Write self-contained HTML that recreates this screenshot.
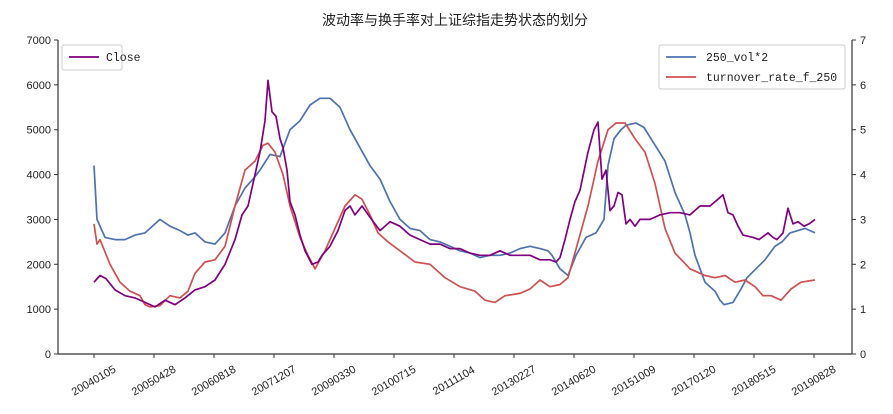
<!DOCTYPE html>
<html><head><meta charset="utf-8"><style>
body{margin:0;background:#fff;}
svg{display:block;font-family:"Liberation Sans","Noto Sans CJK SC",sans-serif;}
</style></head><body>
<svg id="chart" width="893" height="414" viewBox="0 0 893 414" xmlns="http://www.w3.org/2000/svg">
<text x="455" y="25" text-anchor="middle" font-size="14" fill="#222">波动率与换手率对上证综指走势状态的划分</text>
<g id="axes"></g>
<g id="series"></g>
<g>
<rect x="62" y="45" width="60" height="25" fill="#fff" stroke="#ccc" rx="2"/>
<line x1="69" y1="57" x2="99" y2="57" stroke="#800080" stroke-width="1.8"/>
<text x="106" y="61" font-family="Liberation Mono,monospace" font-size="11.5" fill="#222">Close</text>
</g>
<g>
<rect x="659" y="45" width="186" height="44" fill="#fff" stroke="#ccc" rx="2"/>
<line x1="666" y1="57" x2="696" y2="57" stroke="#4c72b0" stroke-width="1.8"/>
<text x="706" y="61" font-family="Liberation Mono,monospace" font-size="11.5" fill="#222">250_vol*2</text>
<line x1="666" y1="77" x2="696" y2="77" stroke="#d05050" stroke-width="1.8"/>
<text x="706" y="81" font-family="Liberation Mono,monospace" font-size="11.5" fill="#222">turnover_rate_f_250</text>
</g>
</svg>
<script>
const tickLabels=["20040105","20050428","20060818","20071207","20090330","20100715","20111104","20130227","20140620","20151009","20170120","20180515","20190828"];
const leftTicks=[0,1000,2000,3000,4000,5000,6000,7000];
const rightTicks=[0,1,2,3,4,5,6,7];
const closeIdx=[0,30,60,105,155,205,255,305,355,405,455,505,555,605,655,705,740,770,805,830,855,870,890,910,930,945,965,980,1005,1030,1055,1090,1120,1140,1180,1220,1255,1280,1305,1340,1380,1430,1480,1530,1580,1630,1680,1730,1780,1830,1880,1930,1980,2030,2080,2130,2180,2230,2280,2310,2330,2355,2380,2405,2430,2470,2500,2520,2540,2560,2580,2600,2620,2640,2660,2680,2705,2730,2780,2830,2880,2930,2980,3030,3080,3120,3145,3170,3195,3220,3245,3295,3325,3370,3395,3415,3445,3470,3495,3520,3550,3575,3605];
const closeVals=[1600,1750,1680,1430,1300,1250,1150,1050,1200,1100,1250,1430,1500,1650,2000,2550,3100,3300,4000,4500,5200,6100,5400,5300,4800,4600,4100,3400,3100,2650,2300,2000,2050,2200,2400,2750,3200,3300,3100,3300,3050,2750,2950,2850,2650,2550,2450,2450,2350,2350,2250,2200,2200,2300,2200,2200,2200,2100,2100,2050,2150,2550,3000,3400,3650,4500,5000,5170,3900,4100,3200,3300,3600,3550,2900,3000,2850,3000,3000,3100,3150,3150,3100,3300,3300,3450,3550,3150,3100,2850,2650,2600,2550,2700,2600,2550,2700,3250,2900,2950,2850,2900,3000];
const volIdx=[0,15,55,105,155,205,255,305,330,380,430,470,505,555,605,655,705,755,795,830,880,930,980,1030,1080,1130,1180,1230,1280,1330,1380,1430,1480,1530,1580,1630,1680,1730,1780,1830,1880,1930,1980,2030,2080,2130,2180,2230,2270,2290,2330,2370,2410,2460,2510,2550,2570,2600,2635,2660,2710,2750,2785,2855,2905,2955,2980,3005,3055,3105,3130,3150,3195,3235,3265,3355,3405,3440,3480,3555,3605];
const volVals=[4200,3000,2600,2550,2550,2650,2700,2900,3000,2850,2750,2650,2700,2500,2450,2700,3300,3700,3900,4100,4450,4400,5000,5200,5550,5700,5700,5500,5000,4600,4200,3900,3400,3000,2800,2750,2550,2500,2400,2300,2250,2150,2200,2200,2250,2350,2400,2350,2300,2200,1900,1750,2200,2600,2700,3000,4200,4800,5000,5100,5150,5050,4800,4300,3600,3100,2700,2200,1600,1400,1200,1100,1150,1450,1700,2100,2400,2500,2700,2800,2700];
const turnIdx=[0,15,30,80,130,180,230,255,280,330,380,430,470,505,555,605,655,705,755,805,845,870,905,945,980,1030,1070,1105,1155,1205,1255,1305,1340,1380,1420,1470,1530,1605,1680,1755,1830,1905,1955,2005,2055,2130,2180,2230,2280,2330,2370,2420,2470,2520,2570,2610,2655,2705,2755,2805,2855,2905,2980,3055,3105,3155,3205,3255,3305,3345,3385,3435,3485,3535,3605];
const turnVals=[2900,2450,2550,2000,1600,1400,1300,1100,1050,1080,1300,1250,1400,1800,2050,2100,2400,3300,4100,4300,4650,4700,4500,4000,3300,2600,2200,1900,2300,2800,3300,3550,3450,3100,2700,2500,2300,2050,2000,1700,1500,1400,1200,1150,1300,1350,1450,1650,1500,1550,1700,2500,3300,4300,5000,5150,5150,4800,4500,3800,2800,2250,1900,1750,1700,1750,1600,1650,1500,1300,1300,1200,1450,1600,1650];

const NS="http://www.w3.org/2000/svg";
const X0=58,X1=852,Y0=354,Y1=40;
function xs(i){return 94+i*0.2;}
function ys(v){return Y0-(v/7000)*(Y0-Y1);}
function yr(v){return Y0-(v/7)*(Y0-Y1);}
const axes=document.getElementById('axes');
const ser=document.getElementById('series');
function mk(tag,attrs,parent){const e=document.createElementNS(NS,tag);for(const k in attrs)e.setAttribute(k,attrs[k]);parent.appendChild(e);return e;}
const lsp=mk('line',{x1:X0,y1:Y1,x2:X0,y2:Y0,stroke:'#333','stroke-width':1.2},axes);


const rsp=mk('line',{x1:X1,y1:Y1,x2:X1,y2:Y0,stroke:'#333','stroke-width':1.2},axes);


const bsp=mk('line',{x1:X0,y1:Y0,x2:X1,y2:Y0,stroke:'#333','stroke-width':1.2},axes);


leftTicks.forEach(v=>{const y=ys(v);mk('line',{x1:X0-4,y1:y,x2:X0,y2:y,stroke:'#333'},axes);
const t=mk('text',{x:X0-7,y:y+4,'text-anchor':'end','font-size':11,fill:'#222'},axes);t.textContent=v;

});
rightTicks.forEach(v=>{const y=yr(v);mk('line',{x1:X1,y1:y,x2:X1+4,y2:y,stroke:'#333'},axes);
const t=mk('text',{x:X1+8,y:y+4,'font-size':11,fill:'#222'},axes);t.textContent=v;

});
tickLabels.forEach((s,k)=>{const x=xs(k*300);mk('line',{x1:x,y1:Y0,x2:x,y2:Y0+4,stroke:'#333'},axes);
const t=mk('text',{x:x,y:Y0+30,'text-anchor':'middle','font-size':11,fill:'#222',transform:`rotate(-30 ${x} ${Y0+27})`},axes);t.textContent=s;

});
function line(idx,vals,color,name){const n=Math.min(idx.length,vals.length);let d='';for(let k=0;k<n;k++)d+=(k?'L':'M')+xs(idx[k]).toFixed(1)+' '+ys(vals[k]).toFixed(1)+' ';
const p=mk('path',{d:d,fill:'none',stroke:color,'stroke-width':1.7,'stroke-linejoin':'round'},ser);

}
line(volIdx,volVals,'#4c72b0','vol-line');
line(turnIdx,turnVals,'#d05050','turnover-line');
line(closeIdx,closeVals,'#800080','close-line');
</script>
</body></html>
